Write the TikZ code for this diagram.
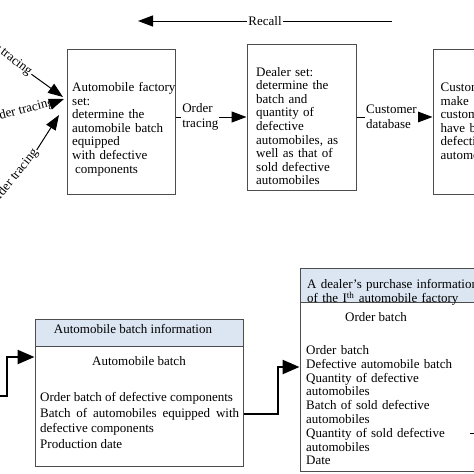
\documentclass[tikz,border=0pt]{standalone}
\usepackage{fontspec}
\setmainfont{Liberation Serif}
\usepackage{tikz}
\usetikzlibrary{arrows.meta}
\definecolor{boxline}{HTML}{4D4D4D}
\definecolor{header}{HTML}{DCE6F2}
\newcommand\tablefont{\fontsize{13}{13.6}\selectfont}
\tikzset{%
    >={Triangle[length=15pt,width=11pt]},
    box/.style={draw=boxline, line width=1pt, inner sep=0pt},
    headbox/.style={box, fill=header},
    boxtext/.style={inner sep=0pt, anchor=base west, text width=240pt, align=left, font=\tablefont},
    keytext/.style={inner sep=0pt, anchor=base, font=\tablefont},
    flowlabel/.style={inner sep=1pt, fill=white, align=left, font=\fontsize{13}{14.5}\selectfont},
    tracelabel/.style={inner sep=1pt, font=\fontsize{13}{14}\selectfont},
    flow/.style={->, line width=1pt},
    batchflow/.style={-{Triangle[length=17pt,width=14pt]}, line width=2.5pt}
}

\begin{document}
\begin{tikzpicture}[x=1pt,y=-1pt]
  \useasboundingbox (0,0) rectangle (474,474);
  \clip (0,0) rectangle (474,474);

  % upper row
  \node[box, minimum width=108pt, minimum height=145pt] (factory) at (121,121.5) {};
  \node[box, minimum width=109pt, minimum height=146pt] (dealer) at (301.5,117) {};
  \node[box, minimum width=108pt, minimum height=145pt] (customer) at (487,121.5) {};

  \node[boxtext] (factorytext) at (72,91.5) {Automobile factory\\set:\\determine the\\automobile batch\\equipped\\with defective\\\hspace*{3pt}components};
  \node[boxtext] (dealertext) at (256,76) {Dealer set:\\determine the\\batch and\\quantity of\\defective\\automobiles, as\\well as that of\\sold defective\\automobiles};
  \node[boxtext] (customertext) at (440.5,91.5) {Customer set:\\make\\customers who\\have bought\\defective\\automobiles};

  \draw[flow] (factory.east |- dealer.west) -- node[flowlabel, pos=0.35] {Order\\tracing} (dealer.west);
  \draw[flow] (dealer.east) -- node[flowlabel, pos=0.46] {Customer\\database} (dealer.east -| customer.west);

  \coordinate (recallstart) at (392,21);
  \coordinate (recallend) at (138,21);
  \draw[flow] (recallstart) -- node[flowlabel] {Recall} (recallend);

  \node[tracelabel, rotate=-38] (trace1) at (3,52) {Order tracing};
  \node[tracelabel, rotate=14] (trace2) at (20,111) {Order tracing};
  \node[tracelabel, rotate=51] (trace3) at (14,178) {Order tracing};
  \coordinate (in1) at (63,97);
  \coordinate (in2) at (64,99);
  \coordinate (in3) at (59,115);
  \draw[flow] (trace1.east) -- (in1);
  \draw[flow] (trace2.east) -- (in2);
  \draw[flow] (trace3.east) -- (in3);

  % lower row
  \node[box, minimum width=208pt, minimum height=147pt] (batch) at (139,392.5) {};
  \node[headbox, minimum width=208pt, minimum height=27pt, anchor=north] (batchhead) at (batch.north) {};
  \node[keytext] (batchtitle) at (133,333) {Automobile batch information};
  \node[keytext] (batchkey) at (139,365) {Automobile batch};
  \node[boxtext, text width=199pt, align=justify, font=\fontsize{13}{15.6}\selectfont] (batchfields) at (40,401.5) {Order batch of defective components\\Batch of automobiles equipped with\linebreak defective components\\Production date};

  \node[box, minimum width=230pt, minimum height=203pt] (purchase) at (415,369.5) {};
  \node[headbox, minimum width=230pt, minimum height=34pt, anchor=north] (purchasehead) at (purchase.north) {};
  \node[boxtext, font=\fontsize{13}{14.5}\selectfont] (purchasetitle) at (307,288) {A dealer's purchase information\\of the I\textsuperscript{th} automobile factory};
  \node[keytext] (purchasekey) at (376,321) {Order batch};
  \node[boxtext, font=\fontsize{13}{13.8}\selectfont] (purchasefields) at (306,354.5) {Order batch\\Defective automobile batch\\Quantity of defective\\automobiles\\Batch of sold defective\\automobiles\\Quantity of sold defective\\automobiles\\Date};

  \coordinate (batchsource) at (-5,396);
  \coordinate (batchbend) at (7,357);
  \draw[batchflow] (batchsource) -| (batchbend) -- (batchbend -| batch.west);

  \coordinate (purchasebend) at (278,367);
  \draw[batchflow] ([yshift=-21.5pt]batch.east) -| (purchasebend) -- (purchasebend -| purchase.west);

  \coordinate (soldstart) at (470,433);
  \coordinate (soldend) at (490,433);
  \draw[line width=1pt] (soldstart) -- (soldend);
\end{tikzpicture}
\end{document}
